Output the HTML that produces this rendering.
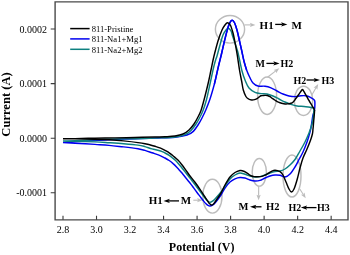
<!DOCTYPE html>
<html><head><meta charset="utf-8"><title>CV</title>
<style>
html,body{margin:0;padding:0;background:#fff;}
body{width:350px;height:255px;overflow:hidden;}
svg{display:block;}
text{font-family:"Liberation Serif",serif;fill:#000;}
.tk{font-size:10px;}
.b{font-weight:bold;}
</style></head><body>
<svg width="350" height="255" viewBox="0 0 350 255">
<rect width="350" height="255" fill="#fff"/>
<!-- frame -->
<path d="M55.1,1.9H348V219.85H55.1Z" fill="none" stroke="#4a4a4a" stroke-width="1.4"/>
<!-- x ticks -->
<g stroke="#3a3a3a" stroke-width="1.1">
<path d="M63.00,219.8v-4M96.52,219.8v-4M130.04,219.8v-4M163.56,219.8v-4M197.08,219.8v-4M230.60,219.8v-4M264.12,219.8v-4M297.64,219.8v-4M331.16,219.8v-4"/>
<path d="M55.1,29h-4.4M55.1,83.6h-4.4M55.1,138.2h-4.4M55.1,192.8h-4.4"/>
</g>
<g class="tk" text-anchor="middle">
<text x="63.00" y="232.7">2.8</text><text x="96.52" y="232.7">3.0</text><text x="130.04" y="232.7">3.2</text><text x="163.56" y="232.7">3.4</text><text x="197.08" y="232.7">3.6</text><text x="230.60" y="232.7">3.8</text><text x="264.12" y="232.7">4.0</text><text x="297.64" y="232.7">4.2</text><text x="331.16" y="232.7">4.4</text>
</g>
<g class="tk" text-anchor="end">
<text x="47.1" y="32.5">0.0002</text><text x="47.1" y="87.1">0.0001</text><text x="47.1" y="141.7">0.0000</text><text x="47.1" y="196.3">-0.0001</text>
</g>
<text class="b" font-size="12" text-anchor="middle" x="201.7" y="250.9">Potential (V)</text>
<text class="b" font-size="12" text-anchor="middle" textLength="64.4" lengthAdjust="spacingAndGlyphs" transform="translate(9.8,104.5) rotate(-90)">Current (A)</text>
<!-- grey ellipses/arrows -->
<g fill="none" stroke="#bcbcbc" stroke-width="1.45">
<ellipse cx="230" cy="29.3" rx="14.6" ry="13.8"/>
<ellipse cx="267.1" cy="95.7" rx="9.5" ry="18.7"/>
<ellipse cx="303.5" cy="100.8" rx="9.2" ry="14.6"/>
<ellipse cx="212.4" cy="196.2" rx="9.6" ry="16.9"/>
<ellipse cx="259.3" cy="172.3" rx="7.1" ry="13.8"/>
<ellipse cx="292" cy="176" rx="9" ry="21"/>
</g>
<path d="M244.8,24.9L251.0,24.9" stroke="#bcbcbc" stroke-width="1.1" fill="none"/><path d="M255.4,24.9L249.9,27.0L251.0,24.9L249.9,22.8Z" fill="#bcbcbc"/>
<path d="M267.5,77.2L275.8,70.9" stroke="#bcbcbc" stroke-width="1.1" fill="none"/><path d="M279.3,68.3L276.2,73.3L275.8,70.9L273.6,69.9Z" fill="#bcbcbc"/>
<path d="M311.7,95.2L316.0,87.8" stroke="#bcbcbc" stroke-width="1.1" fill="none"/><path d="M318.2,84.0L317.3,89.8L316.0,87.8L313.6,87.7Z" fill="#bcbcbc"/>
<path d="M193.3,200.2L198.2,200.2" stroke="#bcbcbc" stroke-width="1.1" fill="none"/><path d="M202.6,200.2L197.1,202.3L198.2,200.2L197.1,198.1Z" fill="#bcbcbc"/>
<path d="M258.7,186.0L258.6,195.8" stroke="#bcbcbc" stroke-width="1.1" fill="none"/><path d="M258.6,200.2L256.5,194.7L258.6,195.8L260.7,194.7Z" fill="#bcbcbc"/>
<path d="M299.8,189.0L303.3,194.5" stroke="#bcbcbc" stroke-width="1.1" fill="none"/><path d="M305.7,198.2L301.0,194.7L303.3,194.5L304.5,192.4Z" fill="#bcbcbc"/>
<!-- curves -->
<g fill="none" stroke-width="1.45" stroke-linejoin="round" stroke-linecap="butt">
<path stroke="#0000f0" d="M63.0,142.6C65.0,142.5 70.5,142.1 75.0,141.8C79.5,141.5 85.0,141.1 90.0,140.8C95.0,140.5 100.0,140.2 105.0,140.0C110.0,139.8 115.0,139.5 120.0,139.3C125.0,139.1 129.2,139.0 135.0,138.8C140.8,138.6 148.3,138.4 155.0,138.1C161.7,137.8 169.7,137.7 175.0,137.2C180.3,136.7 184.0,135.9 187.0,135.0C190.0,134.1 191.2,133.3 193.0,131.6C194.8,129.9 196.5,127.3 198.0,125.0C199.5,122.7 200.7,120.6 202.0,118.0C203.3,115.4 204.7,112.7 206.0,109.5C207.3,106.3 208.6,103.2 210.0,99.0C211.4,94.8 213.1,88.8 214.4,84.0C215.7,79.2 216.7,74.0 217.6,70.0C218.5,66.0 219.4,62.3 220.0,60.0C220.6,57.7 220.3,58.8 221.0,56.0C221.7,53.2 223.0,47.2 224.0,43.0C225.0,38.8 226.1,34.2 227.0,31.0C227.9,27.8 228.6,25.4 229.4,23.6C230.2,21.8 231.2,20.3 232.0,20.2C232.8,20.1 233.7,21.1 234.5,22.8C235.3,24.5 236.3,27.6 237.1,30.5C237.9,33.4 238.5,36.4 239.3,40.0C240.1,43.6 241.2,48.3 242.0,52.0C242.8,55.7 243.4,59.0 244.2,62.0C245.0,65.0 245.7,67.5 246.6,70.0C247.5,72.5 248.5,74.8 249.6,77.0C250.7,79.2 251.6,81.5 253.0,83.0C254.4,84.5 256.0,85.5 258.0,86.0C260.0,86.5 262.8,85.9 265.0,86.2C267.2,86.5 269.0,87.0 271.0,87.8C273.0,88.6 275.0,90.0 277.0,91.0C279.0,92.0 281.0,93.2 283.0,94.0C285.0,94.8 287.0,95.6 289.0,96.0C291.0,96.4 293.0,96.6 295.0,96.6C297.0,96.6 299.5,96.0 301.0,95.8C302.5,95.6 303.0,95.6 304.0,95.6C305.0,95.6 306.0,95.7 307.0,96.0C308.0,96.3 309.0,96.7 310.0,97.2C311.0,97.7 312.2,98.2 313.0,98.8C313.8,99.3 314.3,99.8 314.6,100.5C314.9,101.2 314.9,101.9 314.9,103.0C314.9,104.1 314.9,105.7 314.8,107.0C314.7,108.3 314.5,110.3 314.4,111.0M314.4,111.0C314.1,111.8 313.3,113.8 312.8,116.0C312.3,118.2 312.1,121.3 311.6,124.0C311.1,126.7 310.8,129.0 310.0,132.0C309.2,135.0 308.2,138.7 307.0,142.0C305.8,145.3 304.3,149.1 303.0,152.0C301.7,154.9 300.3,157.0 299.0,159.5C297.7,162.0 296.5,164.6 295.0,167.0C293.5,169.4 291.7,172.3 290.0,174.0C288.3,175.7 286.7,176.8 285.0,177.0C283.3,177.2 281.7,175.6 280.0,175.3C278.3,175.0 276.7,174.9 275.0,175.0C273.3,175.1 271.7,175.5 270.0,176.0C268.3,176.5 266.7,177.3 265.0,178.0C263.3,178.7 261.7,179.9 260.0,180.4C258.3,180.9 256.7,181.1 255.0,181.0C253.3,180.9 251.7,180.5 250.0,180.0C248.3,179.5 246.7,178.4 245.0,178.0C243.3,177.6 241.7,177.4 240.0,177.5C238.3,177.6 236.7,178.1 235.0,178.8C233.3,179.6 231.7,180.5 230.0,182.0C228.3,183.5 226.5,185.8 225.0,188.0C223.5,190.2 222.7,192.5 221.0,195.0C219.3,197.5 216.4,201.3 215.0,203.0C213.6,204.7 213.3,204.7 212.5,205.2C211.7,205.7 210.8,206.0 210.0,206.0C209.2,206.0 208.7,205.8 208.0,205.4C207.3,205.0 206.8,204.7 206.0,203.8C205.2,203.0 204.0,201.5 203.0,200.3C202.0,199.1 201.0,197.7 200.0,196.4C199.0,195.1 198.2,194.1 197.0,192.5C195.8,190.9 194.3,188.8 193.0,187.0C191.7,185.2 190.4,183.6 189.2,182.0C187.9,180.4 186.7,179.0 185.5,177.5C184.3,176.0 183.2,174.5 182.0,173.0C180.8,171.5 179.5,170.2 178.0,168.6C176.5,167.0 174.6,164.9 173.1,163.6C171.6,162.2 170.5,161.4 169.2,160.5C167.8,159.6 166.4,158.8 165.0,158.0C163.6,157.2 162.8,156.7 160.6,155.8C158.4,154.9 154.6,153.7 152.0,152.8C149.4,151.9 147.3,151.1 145.0,150.4C142.7,149.7 141.6,149.3 138.0,148.7C134.4,148.1 128.4,147.4 123.6,146.9C118.8,146.4 113.8,145.8 109.0,145.4C104.2,145.0 100.7,144.8 95.0,144.4C89.3,144.0 80.3,143.5 75.0,143.2C69.7,142.9 65.0,142.7 63.0,142.6"/>
<path stroke="#0d8080" d="M63.0,141.0C65.0,140.9 70.5,140.8 75.0,140.6C79.5,140.4 85.0,140.2 90.0,140.0C95.0,139.8 100.0,139.5 105.0,139.3C110.0,139.1 115.0,139.1 120.0,139.0C125.0,138.9 129.2,138.8 135.0,138.7C140.8,138.5 148.3,138.4 155.0,138.1C161.7,137.8 170.0,137.6 175.0,137.0C180.0,136.4 182.3,135.7 185.0,134.6C187.7,133.5 189.2,132.2 191.0,130.4C192.8,128.6 194.5,126.2 196.0,124.0C197.5,121.8 198.8,119.2 200.0,117.0C201.2,114.8 201.9,113.3 203.0,110.5C204.1,107.7 205.2,104.4 206.4,100.0C207.6,95.6 208.9,89.0 210.0,84.0C211.1,79.0 212.1,74.0 213.0,70.0C213.9,66.0 214.9,62.3 215.6,60.0C216.3,57.7 216.3,58.5 217.0,56.0C217.7,53.5 219.0,48.5 220.0,45.0C221.0,41.5 222.0,37.5 223.0,35.0C224.0,32.5 225.1,31.1 226.0,30.0C226.9,28.9 227.6,28.1 228.4,28.3C229.2,28.5 230.3,29.7 231.0,31.0C231.7,32.3 232.0,34.2 232.6,36.0C233.2,37.8 233.9,40.0 234.6,42.0C235.3,44.0 236.1,46.3 236.6,48.0C237.1,49.7 237.3,50.0 237.8,52.0C238.3,54.0 238.9,56.8 239.6,60.0C240.3,63.2 241.1,67.7 242.0,71.0C242.9,74.3 243.8,77.2 245.0,80.0C246.2,82.8 247.3,86.0 249.0,88.0C250.7,90.0 253.0,91.4 255.0,92.3C257.0,93.2 259.0,93.3 261.0,93.6C263.0,93.9 265.0,93.6 267.0,94.0C269.0,94.4 271.0,95.2 273.0,96.0C275.0,96.8 277.0,98.0 279.0,99.0C281.0,100.0 283.0,101.1 285.0,102.0C287.0,102.9 289.0,103.7 291.0,104.4C293.0,105.1 294.8,105.7 297.0,106.0C299.2,106.3 301.8,106.3 304.0,106.5C306.2,106.7 308.3,107.0 310.0,107.2C311.7,107.5 313.3,107.9 314.0,108.0M314.0,108.0C313.9,109.2 313.8,112.3 313.5,115.0C313.2,117.7 312.8,121.0 312.0,124.0C311.2,127.0 310.2,130.0 309.0,133.0C307.8,136.0 306.5,139.0 305.0,142.0C303.5,145.0 301.7,148.1 300.0,151.0C298.3,153.9 296.7,157.2 295.0,159.5C293.3,161.8 291.7,163.4 290.0,165.0C288.3,166.6 286.7,168.0 285.0,169.0C283.3,170.0 281.7,170.6 280.0,171.0C278.3,171.4 276.7,171.3 275.0,171.6C273.3,171.9 271.7,172.4 270.0,173.0C268.3,173.6 266.7,174.4 265.0,175.0C263.3,175.6 261.7,176.3 260.0,176.6C258.3,176.9 256.7,177.1 255.0,177.0C253.3,176.9 251.7,176.4 250.0,176.0C248.3,175.6 246.7,174.8 245.0,174.3C243.3,173.8 241.7,172.9 240.0,173.0C238.3,173.1 236.7,174.0 235.0,175.0C233.3,176.0 231.7,177.2 230.0,179.0C228.3,180.8 226.5,183.8 225.0,186.0C223.5,188.2 222.7,189.8 221.0,192.0C219.3,194.2 216.4,197.5 215.0,199.0C213.6,200.5 213.3,200.7 212.5,201.2C211.7,201.7 211.1,202.2 210.3,202.2C209.6,202.2 208.9,201.9 208.0,201.2C207.1,200.5 206.3,199.7 205.0,198.0C203.7,196.3 201.3,193.1 200.0,191.3C198.7,189.5 198.2,188.8 197.0,187.2C195.8,185.6 194.3,183.5 193.1,182.0C191.9,180.5 191.2,179.5 190.0,178.0C188.8,176.5 187.3,174.7 186.0,173.0C184.7,171.3 183.2,169.5 182.0,168.0C180.8,166.5 179.7,165.2 178.7,164.0C177.7,162.8 177.1,162.0 176.1,161.0C175.1,160.0 174.0,159.1 172.8,158.2C171.7,157.3 170.5,156.3 169.2,155.4C167.9,154.5 166.4,153.7 165.0,153.0C163.6,152.3 162.8,151.7 160.6,151.0C158.4,150.3 154.6,149.6 152.0,148.9C149.4,148.2 147.3,147.2 145.0,146.6C142.7,146.0 141.6,145.6 138.0,145.1C134.4,144.6 128.4,144.1 123.6,143.7C118.8,143.3 113.8,143.0 109.0,142.7C104.2,142.4 100.7,142.1 95.0,141.9C89.3,141.7 80.3,141.5 75.0,141.3C69.7,141.2 65.0,141.1 63.0,141.0"/>
<path stroke="#0000f0" d="M214.4,84.0C214.9,81.7 216.7,74.0 217.6,70.0C218.5,66.0 219.4,62.3 220.0,60.0C220.6,57.7 220.3,58.8 221.0,56.0C221.7,53.2 223.0,47.2 224.0,43.0C225.0,38.8 226.1,34.2 227.0,31.0C227.9,27.8 228.6,25.4 229.4,23.6C230.2,21.8 231.2,20.3 232.0,20.2C232.8,20.1 233.7,21.1 234.5,22.8C235.3,24.5 236.3,27.6 237.1,30.5C237.9,33.4 238.5,36.4 239.3,40.0C240.1,43.6 241.2,48.3 242.0,52.0C242.8,55.7 243.4,59.0 244.2,62.0C245.0,65.0 246.2,68.7 246.6,70.0"/>
<path stroke="#000" d="M63.0,138.8C65.0,138.8 69.7,138.7 75.0,138.6C80.3,138.5 88.3,138.3 95.0,138.2C101.7,138.1 108.3,138.0 115.0,137.9C121.7,137.8 128.3,137.7 135.0,137.5C141.7,137.3 150.0,137.1 155.0,137.0C160.0,136.9 161.7,137.0 165.0,136.8C168.3,136.6 172.0,136.5 175.0,136.0C178.0,135.5 180.7,135.0 183.0,134.0C185.3,133.0 187.2,131.7 189.0,130.0C190.8,128.3 192.5,126.2 194.0,124.0C195.5,121.8 196.8,119.2 198.0,117.0C199.2,114.8 200.0,113.3 201.0,110.5C202.0,107.7 202.8,104.4 204.0,100.0C205.2,95.6 206.8,89.0 208.0,84.0C209.2,79.0 210.0,74.7 211.0,70.0C212.0,65.3 212.8,60.8 214.0,56.0C215.2,51.2 216.7,45.3 218.0,41.0C219.3,36.7 220.8,32.7 222.0,30.0C223.2,27.3 224.1,26.2 225.0,25.0C225.9,23.8 226.7,22.8 227.6,22.8C228.5,22.8 229.4,23.3 230.3,25.0C231.2,26.7 232.2,30.0 233.0,33.0C233.8,36.0 234.4,39.2 235.1,43.0C235.8,46.8 236.7,51.5 237.4,56.0C238.1,60.5 238.8,65.7 239.5,70.0C240.2,74.3 241.2,78.7 241.8,82.0C242.4,85.3 242.6,87.6 243.3,90.0C244.0,92.4 245.0,95.0 245.9,96.5C246.8,98.0 247.5,98.4 248.5,99.0C249.5,99.6 250.7,99.9 251.7,100.0C252.7,100.1 253.6,99.9 254.5,99.6C255.4,99.3 256.6,98.8 257.4,98.3C258.2,97.8 258.7,97.2 259.3,96.8C259.9,96.4 260.2,96.0 261.0,95.8C261.8,95.6 262.9,95.5 264.0,95.4C265.1,95.4 266.3,95.3 267.3,95.5C268.3,95.7 269.2,96.2 270.0,96.7C270.8,97.2 271.4,97.8 272.2,98.3C273.0,98.8 273.9,99.5 274.7,100.0C275.5,100.5 276.3,101.1 277.2,101.6C278.1,102.1 278.9,102.4 280.0,102.8C281.1,103.2 282.6,103.5 283.8,103.7C285.0,103.9 285.8,104.0 287.0,103.9C288.2,103.8 290.0,103.5 291.0,103.2C292.0,102.9 292.4,102.7 293.0,102.2C293.6,101.8 294.0,101.2 294.5,100.5C295.0,99.8 295.4,99.1 296.0,98.3C296.6,97.5 297.3,96.5 298.0,95.5C298.7,94.5 299.4,93.5 300.0,92.6C300.6,91.7 301.4,90.5 301.8,90.0C302.2,89.5 302.4,89.4 302.7,89.6C303.0,89.8 303.2,90.4 303.8,91.3C304.4,92.2 305.3,94.0 306.0,95.2C306.7,96.5 307.3,97.6 308.0,98.8C308.7,100.0 309.4,101.3 310.0,102.3C310.6,103.3 311.1,104.0 311.7,105.0C312.3,106.0 313.0,107.2 313.5,108.0C314.0,108.8 314.4,109.7 314.6,110.0M314.6,110.0C314.6,110.5 314.5,111.8 314.4,113.0C314.3,114.2 314.2,115.7 314.1,117.0C314.0,118.3 313.8,119.5 313.7,121.0C313.6,122.5 313.4,124.5 313.3,126.0C313.2,127.5 313.0,128.7 312.9,130.0C312.8,131.3 312.8,132.3 312.4,134.0C312.0,135.7 311.5,137.5 310.6,140.0C309.7,142.5 308.3,146.0 307.0,149.0C305.7,152.0 304.2,154.8 303.0,158.0C301.8,161.2 301.0,164.3 300.0,168.0C299.0,171.7 298.0,176.5 297.0,180.0C296.0,183.5 294.9,187.0 294.0,189.0C293.1,191.0 292.2,192.0 291.4,192.0C290.6,192.0 289.9,190.7 289.0,189.0C288.1,187.3 287.0,184.3 286.0,182.0C285.0,179.7 284.0,176.7 283.0,175.0C282.0,173.3 281.3,172.4 280.0,171.6C278.7,170.8 276.5,170.2 275.0,170.2C273.5,170.2 272.2,171.1 271.0,171.6C269.8,172.1 269.0,172.8 268.0,173.4C267.0,174.0 266.0,174.7 265.0,175.2C264.0,175.7 263.2,176.1 262.0,176.4C260.8,176.7 259.3,176.8 258.0,176.8C256.7,176.8 255.1,176.7 254.0,176.6C252.9,176.5 252.3,176.3 251.5,176.0C250.7,175.7 249.9,175.1 249.0,174.5C248.1,173.9 247.0,173.0 246.0,172.4C245.0,171.8 244.0,171.3 243.0,171.0C242.0,170.7 241.3,170.2 240.0,170.5C238.7,170.8 236.7,171.4 235.0,172.5C233.3,173.6 231.7,174.9 230.0,177.0C228.3,179.1 226.5,182.3 225.0,185.0C223.5,187.7 222.7,190.2 221.0,193.0C219.3,195.8 216.3,200.1 215.0,202.0C213.7,203.9 213.9,203.7 213.3,204.2C212.7,204.7 211.9,205.1 211.3,205.0C210.7,204.9 210.1,204.2 209.5,203.6C208.9,203.0 208.8,202.6 208.0,201.5C207.2,200.4 206.3,199.0 205.0,197.0C203.7,195.0 201.7,191.8 200.0,189.3C198.3,186.8 196.5,184.2 194.8,182.0C193.1,179.8 191.5,177.9 190.0,176.0C188.5,174.1 187.4,172.3 186.0,170.3C184.6,168.3 182.7,165.7 181.3,164.0C180.0,162.3 179.2,161.4 177.9,160.1C176.6,158.8 174.9,157.4 173.5,156.2C172.1,155.0 170.6,153.9 169.2,152.9C167.8,151.9 166.4,151.2 165.0,150.4C163.6,149.6 162.1,148.8 160.6,148.2C159.1,147.6 157.4,147.0 156.0,146.6C154.6,146.2 153.8,146.0 152.0,145.5C150.2,145.0 147.3,144.3 145.0,143.8C142.7,143.3 141.6,143.1 138.0,142.6C134.4,142.1 128.4,141.4 123.6,140.9C118.8,140.4 113.8,140.0 109.0,139.7C104.2,139.4 100.7,139.3 95.0,139.2C89.3,139.1 80.3,139.0 75.0,138.9C69.7,138.8 65.0,138.8 63.0,138.8"/>
</g>
<!-- legend -->
<g stroke-width="1.5" fill="none">
<path stroke="#000" d="M70.2,28.6H89.6"/>
<path stroke="#0000f0" d="M70.2,38.9H89.6"/>
<path stroke="#0d8080" d="M70.2,49.3H89.6"/>
</g>
<g font-size="8.6">
<text x="91.7" y="31.6">811-Pristine</text>
<text x="91.7" y="42">811-Na1+Mg1</text>
<text x="91.7" y="52.6">811-Na2+Mg2</text>
</g>
<!-- labels -->
<g class="b">
<text font-size="11" x="259.6" y="28.6">H1</text><text font-size="11" x="291.5" y="28.6">M</text>
<text font-size="10" x="255.6" y="66.7">M</text><text font-size="10" x="280.6" y="66.7">H2</text>
<text font-size="10" x="293.6" y="83.5">H2</text><text font-size="10" x="321.6" y="83.5">H3</text>
<text font-size="11" x="148.7" y="204.4">H1</text><text font-size="11" x="180.7" y="204.4">M</text>
<text font-size="10.5" x="238.4" y="210.4">M</text><text font-size="10.5" x="266" y="210.4">H2</text>
<text font-size="10" x="288.5" y="211.2">H2</text><text font-size="10" x="317" y="211.2">H3</text>
</g>
<!-- black arrows -->
<path d="M275.2,24.4L282.4,24.4" stroke="#000" stroke-width="1.3" fill="none"/><path d="M287.4,24.4L281.1,26.5L282.4,24.4L281.1,22.3Z" fill="#000"/>
<path d="M266.4,63.4L274.6,63.4" stroke="#000" stroke-width="1.3" fill="none"/><path d="M279.6,63.4L273.3,65.5L274.6,63.4L273.3,61.3Z" fill="#000"/>
<path d="M306.5,80.0L315.0,80.0" stroke="#000" stroke-width="1.3" fill="none"/><path d="M320.0,80.0L313.7,82.1L315.0,80.0L313.7,77.9Z" fill="#000"/>
<path d="M179.0,200.9L168.5,200.9" stroke="#000" stroke-width="1.3" fill="none"/><path d="M163.5,200.9L169.8,198.8L168.5,200.9L169.8,203.0Z" fill="#000"/>
<path d="M261.5,206.8L255.0,206.8" stroke="#000" stroke-width="1.3" fill="none"/><path d="M250.0,206.8L256.3,204.7L255.0,206.8L256.3,208.9Z" fill="#000"/>
<path d="M316.5,207.6L305.8,207.6" stroke="#000" stroke-width="1.3" fill="none"/><path d="M300.8,207.6L307.1,205.5L305.8,207.6L307.1,209.7Z" fill="#000"/>
</svg>
</body></html>
